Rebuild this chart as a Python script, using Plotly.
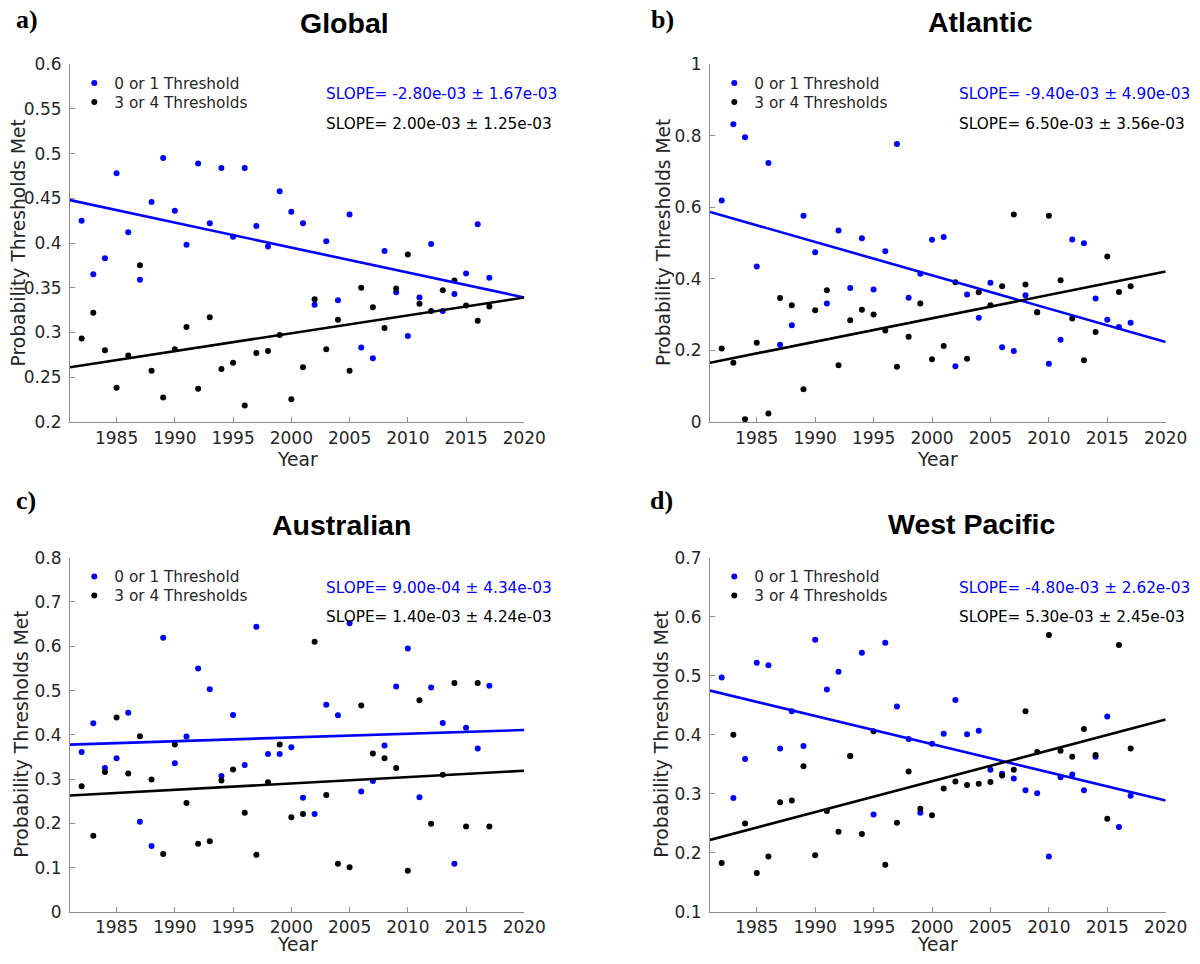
import plotly.graph_objects as go

# page body has an 8px margin, so the figure is drawn 8px in from the window corner
OFF = 8
W, H = 1184, 948

YEARS = list(range(1982, 2018))
TREND_X = [1981, 2020]

# a) Global
GLOBAL_LOW = [0.425, 0.365, 0.383, 0.478, 0.412, 0.359, 0.446, 0.495, 0.436, 0.398,
              0.489, 0.422, 0.484, 0.407, 0.484, 0.419, 0.396, 0.458, 0.435, 0.422,
              0.331, 0.402, 0.336, 0.432, 0.283, 0.271, 0.391, 0.345, 0.296, 0.339,
              0.399, 0.324, 0.343, 0.366, 0.421, 0.361]
GLOBAL_HIGH = [0.293, 0.322, 0.280, 0.238, 0.274, 0.375, 0.257, 0.227, 0.281, 0.306,
               0.237, 0.317, 0.259, 0.266, 0.218, 0.277, 0.279, 0.297, 0.225, 0.261,
               0.337, 0.281, 0.314, 0.257, 0.350, 0.328, 0.305, 0.349, 0.387, 0.332,
               0.324, 0.347, 0.358, 0.330, 0.313, 0.329]
GLOBAL_LOW_FIT = [0.448, 0.339]
GLOBAL_HIGH_FIT = [0.261, 0.339]
GLOBAL_SLOPES = ['SLOPE= -2.80e-03 ± 1.67e-03', 'SLOPE= 2.00e-03 ± 1.25e-03']

# b) Atlantic
ATLANTIC_LOW = [0.619, 0.832, 0.796, 0.434, 0.724, 0.215, 0.270, 0.576, 0.474, 0.331,
                0.535, 0.374, 0.513, 0.370, 0.477, 0.777, 0.347, 0.414, 0.509, 0.517,
                0.155, 0.356, 0.291, 0.389, 0.208, 0.198, 0.354, 0.306, 0.162, 0.229,
                0.510, 0.499, 0.345, 0.285, 0.265, 0.277]
ATLANTIC_HIGH = [0.205, 0.165, 0.007, 0.221, 0.023, 0.346, 0.326, 0.091, 0.312, 0.368,
                 0.158, 0.284, 0.313, 0.300, 0.255, 0.154, 0.238, 0.331, 0.175, 0.212,
                 0.390, 0.176, 0.362, 0.326, 0.379, 0.580, 0.384, 0.306, 0.576, 0.396,
                 0.289, 0.172, 0.251, 0.462, 0.363, 0.379]
ATLANTIC_LOW_FIT = [0.587, 0.223]
ATLANTIC_HIGH_FIT = [0.165, 0.420]
ATLANTIC_SLOPES = ['SLOPE= -9.40e-03 ± 4.90e-03', 'SLOPE= 6.50e-03 ± 3.56e-03']

# c) Australian
AUSTRALIAN_LOW = [0.361, 0.426, 0.325, 0.347, 0.450, 0.204, 0.149, 0.619, 0.336, 0.396,
                  0.550, 0.503, 0.307, 0.445, 0.332, 0.644, 0.357, 0.357, 0.372, 0.258,
                  0.221, 0.468, 0.444, 0.652, 0.272, 0.296, 0.376, 0.509, 0.595, 0.259,
                  0.507, 0.427, 0.109, 0.416, 0.369, 0.511]
AUSTRALIAN_HIGH = [0.284, 0.172, 0.316, 0.439, 0.313, 0.397, 0.299, 0.131, 0.378, 0.246,
                   0.154, 0.160, 0.297, 0.322, 0.224, 0.129, 0.293, 0.378, 0.214, 0.221,
                   0.610, 0.264, 0.109, 0.101, 0.466, 0.358, 0.347, 0.325, 0.093, 0.478,
                   0.199, 0.310, 0.517, 0.193, 0.517, 0.193]
AUSTRALIAN_LOW_FIT = [0.378, 0.411]
AUSTRALIAN_HIGH_FIT = [0.263, 0.319]
AUSTRALIAN_SLOPES = ['SLOPE= 9.00e-04 ± 4.34e-03', 'SLOPE= 1.40e-03 ± 4.24e-03']

# d) West Pacific
PACIFIC_LOW = [0.497, 0.293, 0.359, 0.522, 0.518, 0.377, 0.440, 0.381, 0.561, 0.477,
               0.507, 0.364, 0.539, 0.265, 0.556, 0.448, 0.393, 0.268, 0.385, 0.402,
               0.459, 0.401, 0.407, 0.341, 0.334, 0.326, 0.306, 0.301, 0.194, 0.328,
               0.333, 0.306, 0.363, 0.431, 0.244, 0.297]
PACIFIC_HIGH = [0.183, 0.400, 0.250, 0.166, 0.194, 0.286, 0.289, 0.347, 0.196, 0.271,
                0.236, 0.364, 0.232, 0.406, 0.180, 0.251, 0.338, 0.275, 0.264, 0.309,
                0.321, 0.315, 0.317, 0.320, 0.331, 0.341, 0.440, 0.371, 0.569, 0.373,
                0.363, 0.410, 0.366, 0.258, 0.552, 0.377]
PACIFIC_LOW_FIT = [0.475, 0.289]
PACIFIC_HIGH_FIT = [0.222, 0.426]
PACIFIC_SLOPES = ['SLOPE= -4.80e-03 ± 2.62e-03', 'SLOPE= 5.30e-03 ± 2.45e-03']

SERIES_NAMES = ['0 or 1 Threshold', '3 or 4 Thresholds']

X_TICKS = [1985, 1990, 1995, 2000, 2005, 2010, 2015, 2020]
Y_TICKS_A = [0.2, 0.25, 0.3, 0.35, 0.4, 0.45, 0.5, 0.55, 0.6]
Y_TICKS_B = [0, 0.2, 0.4, 0.6, 0.8, 1]
Y_TICKS_C = [0, 0.1, 0.2, 0.3, 0.4, 0.5, 0.6, 0.7, 0.8]
Y_TICKS_D = [0.1, 0.2, 0.3, 0.4, 0.5, 0.6, 0.7]

BLUE = '#0000ff'
BLACK = '#000000'
GREY_TXT = '#262626'
AXIS_COL = '#8c8c8c'
FONT = 'DejaVu Sans'


# positions below are window pixels measured on the reference
def px(x):
    return (x - OFF) / W


def py(y):
    return 1 - (y - OFF) / H


panels = [
    dict(title='Global', tag='a)', low=GLOBAL_LOW, high=GLOBAL_HIGH,
         lowfit=GLOBAL_LOW_FIT, highfit=GLOBAL_HIGH_FIT, slopes=GLOBAL_SLOPES,
         yticks=Y_TICKS_A, box=(70, 524.3, 64.3, 421.7), slope_x=324,
         title_x=344, title_y=23, tag_x=27, tag_y=19, ylab_x=17.5,
         year_y=460, year_anchor='middle'),
    dict(title='Atlantic', tag='b)', low=ATLANTIC_LOW, high=ATLANTIC_HIGH,
         lowfit=ATLANTIC_LOW_FIT, highfit=ATLANTIC_HIGH_FIT, slopes=ATLANTIC_SLOPES,
         yticks=Y_TICKS_B, box=(710, 1165.7, 64.3, 421.7), slope_x=957,
         title_x=980, title_y=22, tag_x=662, tag_y=19, ylab_x=663,
         year_y=460, year_anchor='middle'),
    dict(title='Australian', tag='c)', low=AUSTRALIAN_LOW, high=AUSTRALIAN_HIGH,
         lowfit=AUSTRALIAN_LOW_FIT, highfit=AUSTRALIAN_HIGH_FIT, slopes=AUSTRALIAN_SLOPES,
         yticks=Y_TICKS_C, box=(70, 524.3, 557.7, 912), slope_x=324,
         title_x=341, title_y=525, tag_x=26, tag_y=500, ylab_x=22,
         year_y=956, year_anchor='bottom'),
    dict(title='West Pacific', tag='d)', low=PACIFIC_LOW, high=PACIFIC_HIGH,
         lowfit=PACIFIC_LOW_FIT, highfit=PACIFIC_HIGH_FIT, slopes=PACIFIC_SLOPES,
         yticks=Y_TICKS_D, box=(710, 1165.7, 557.7, 912), slope_x=957,
         title_x=972, title_y=524, tag_x=661, tag_y=500, ylab_x=662,
         year_y=956, year_anchor='bottom'),
]

fig = go.Figure()
annotations = []
layout = {}
leg_rows = [83.3, 102.3]

for i, p in enumerate(panels):
    n = i + 1
    sfx = '' if n == 1 else str(n)
    xa, ya = 'x' + sfx, 'y' + sfx
    l, r, t, b = p['box']

    for j, (vals, col) in enumerate([(p['low'], BLUE), (p['high'], BLACK)]):
        k = 2 * i + j + 1
        leg = 'legend' if k == 1 else 'legend%d' % k
        fig.add_trace(go.Scatter(x=YEARS, y=vals, xaxis=xa, yaxis=ya, mode='markers',
                                 name=SERIES_NAMES[j], legend=leg, cliponaxis=False,
                                 marker=dict(color=col, size=6)))
        layout[leg] = dict(x=px(l + 4.3), y=py(t + leg_rows[j] - 64.3 - 16.7),
                           xanchor='left', yanchor='top',
                           bgcolor='rgba(0,0,0,0)', borderwidth=0, itemwidth=30,
                           font=dict(family=FONT, size=15.3, color=GREY_TXT))

    fig.add_trace(go.Scatter(x=TREND_X, y=p['lowfit'], xaxis=xa, yaxis=ya, mode='lines',
                             showlegend=False, line=dict(color=BLUE, width=2.6)))
    fig.add_trace(go.Scatter(x=TREND_X, y=p['highfit'], xaxis=xa, yaxis=ya, mode='lines',
                             showlegend=False, line=dict(color=BLACK, width=2.6)))

    axis_common = dict(showline=True, linecolor=AXIS_COL, linewidth=1,
                       ticks='inside', ticklen=5, tickcolor=AXIS_COL,
                       showgrid=False, zeroline=False, automargin=False,
                       tickfont=dict(family=FONT, size=17, color=GREY_TXT))
    layout['xaxis' + sfx] = dict(axis_common, domain=[px(l), px(r)], anchor=ya,
                                 range=[1981, 2020], tickvals=X_TICKS,
                                 ticktext=[str(v) for v in X_TICKS],
                                 ticklabelstandoff=1 if n < 3 else 0)
    layout['yaxis' + sfx] = dict(axis_common, domain=[py(b), py(t)], anchor=xa,
                                 range=[p['yticks'][0], p['yticks'][-1]],
                                 tickvals=p['yticks'],
                                 ticktext=['%g' % v for v in p['yticks']],
                                 ticklabelstandoff=4)

    # slope texts
    annotations.append(dict(x=px(p['slope_x']), y=py(t + 30), xref='paper', yref='paper',
                            text=p['slopes'][0], showarrow=False, xanchor='left',
                            yanchor='middle', font=dict(family=FONT, size=15.3, color=BLUE)))
    annotations.append(dict(x=px(p['slope_x']), y=py(t + 59.7), xref='paper', yref='paper',
                            text=p['slopes'][1], showarrow=False, xanchor='left',
                            yanchor='middle', font=dict(family=FONT, size=15.3, color=BLACK)))
    # titles and panel tags
    annotations.append(dict(x=px(p['title_x']), y=py(p['title_y']), xref='paper', yref='paper',
                            text='<b>%s</b>' % p['title'], showarrow=False,
                            xanchor='center', yanchor='middle',
                            font=dict(family='Liberation Sans', size=28.5, color='black')))
    annotations.append(dict(x=px(p['tag_x']), y=py(p['tag_y']), xref='paper', yref='paper',
                            text='<b>%s</b>' % p['tag'], showarrow=False,
                            xanchor='center', yanchor='middle',
                            font=dict(family='Liberation Serif', size=26, color='black')))
    # axis titles
    annotations.append(dict(x=px((l + r) / 2), y=py(p['year_y']), xref='paper', yref='paper',
                            text='Year', showarrow=False, xanchor='center',
                            yanchor=p['year_anchor'], borderpad=0,
                            font=dict(family=FONT, size=18.7, color=GREY_TXT)))
    annotations.append(dict(x=px(p['ylab_x']), y=py((t + b) / 2), xref='paper', yref='paper',
                            text='Probability Thresholds Met', showarrow=False,
                            textangle=-90, xanchor='center', yanchor='middle',
                            font=dict(family=FONT, size=18.7, color=GREY_TXT)))

fig.update_layout(**layout)
fig.update_layout(
    width=W, height=H,
    margin=dict(l=0, r=0, t=0, b=0),
    paper_bgcolor='white', plot_bgcolor='white',
    annotations=annotations,
    showlegend=True,
)

fig.write_html('out.html')
